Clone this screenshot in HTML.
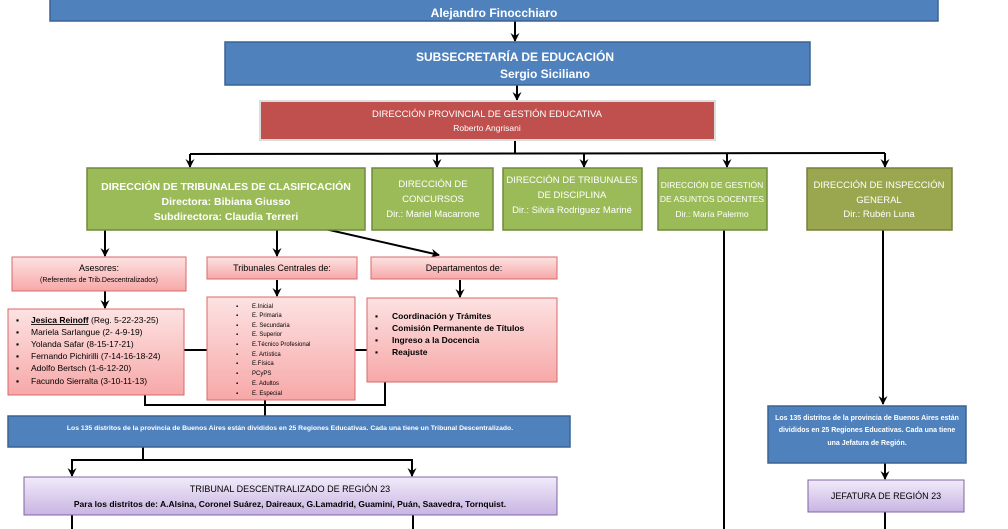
<!DOCTYPE html>
<html><head><meta charset="utf-8"><style>
html,body{margin:0;padding:0;background:#fff;width:1008px;height:529px;overflow:hidden}
svg{display:block;font-family:"Liberation Sans",sans-serif}
</style></head><body>
<svg width="1008" height="529" viewBox="0 0 1008 529" xmlns="http://www.w3.org/2000/svg">
<defs>
<marker id="a" markerWidth="10" markerHeight="10" refX="8" refY="5" orient="auto" markerUnits="userSpaceOnUse"><path d="M0,0.5 L9,5 L0,9.5 L3,5 Z" fill="#000"/></marker>
<linearGradient id="pk" x1="0" y1="0" x2="0" y2="1"><stop offset="0" stop-color="#fde2e2"/><stop offset="1" stop-color="#f7a8a8"/></linearGradient>
<linearGradient id="pu" x1="0" y1="0" x2="0" y2="1"><stop offset="0" stop-color="#f1ebfa"/><stop offset="1" stop-color="#c8b4e2"/></linearGradient>
</defs>
<g stroke="#000" stroke-width="2" fill="none">
<line x1="515" y1="21" x2="515" y2="41" marker-end="url(#a)"/>
<line x1="517" y1="85" x2="517" y2="100" marker-end="url(#a)"/>
<polyline points="515,140 515,154"/>
<line x1="190" y1="154" x2="885" y2="153"/>
<line x1="190" y1="154" x2="190" y2="167" marker-end="url(#a)"/>
<line x1="437" y1="154" x2="437" y2="167" marker-end="url(#a)"/>
<line x1="584" y1="154" x2="584" y2="167" marker-end="url(#a)"/>
<line x1="727" y1="154" x2="727" y2="167" marker-end="url(#a)"/>
<line x1="885" y1="153" x2="885" y2="167" marker-end="url(#a)"/>
<line x1="105" y1="230" x2="105" y2="256" marker-end="url(#a)"/>
<line x1="277" y1="230" x2="277" y2="256" marker-end="url(#a)"/>
<line x1="325" y1="229" x2="439" y2="255" marker-end="url(#a)"/>
<line x1="105" y1="291" x2="105" y2="308" marker-end="url(#a)"/>
<line x1="277" y1="280" x2="277" y2="296" marker-end="url(#a)"/>
<line x1="460" y1="280" x2="460" y2="297" marker-end="url(#a)"/>
<line x1="184" y1="350" x2="207" y2="350"/><line x1="355" y1="350" x2="367" y2="350"/>
<polyline points="145,395 145,405 385,405 385,382"/>
<line x1="265" y1="400" x2="265" y2="416"/>
<line x1="143" y1="447" x2="143" y2="460"/>
<polyline points="72,476 72,460 412,460 412,476"/>
<line x1="72" y1="462" x2="72" y2="476" marker-end="url(#a)"/><line x1="412" y1="462" x2="412" y2="476" marker-end="url(#a)"/>
<line x1="72" y1="515" x2="72" y2="529"/><line x1="413" y1="515" x2="413" y2="529"/>
<line x1="724" y1="230" x2="724" y2="529"/>
<line x1="883" y1="230" x2="883" y2="404" marker-end="url(#a)"/>
<line x1="885" y1="463" x2="885" y2="479" marker-end="url(#a)"/>
<line x1="885" y1="512" x2="885" y2="529"/>
</g>
<g stroke="#3a6394" stroke-width="1.5" fill="#4f81bd">
<rect x="50" y="-2" width="888" height="23"/>
<rect x="225" y="42" width="585" height="43"/>
<rect x="8" y="416" width="562" height="31"/>
<rect x="768" y="406" width="198" height="57"/>
</g>
<rect x="260" y="101" width="455" height="39" fill="#c0504d" stroke="#ddd" stroke-width="2"/>
<g stroke="#6f8a3a" stroke-width="1.5" fill="#9bbb59">
<rect x="87" y="168" width="278" height="62"/>
<rect x="372" y="168" width="121" height="62"/>
<rect x="503" y="168" width="139" height="62"/>
<rect x="658" y="168" width="109" height="62"/>
</g>
<rect x="807" y="168" width="145" height="62" fill="#9aa74f" stroke="#7a7f3a" stroke-width="1.5"/>
<g stroke="#d9686a" stroke-width="1" fill="url(#pk)">
<rect x="12" y="257" width="174" height="34"/>
<rect x="207" y="257" width="150" height="22"/>
<rect x="371" y="257" width="186" height="22"/>
<rect x="8" y="309" width="176" height="86"/>
<rect x="207" y="297" width="148" height="103"/>
<rect x="367" y="298" width="190" height="84"/>
</g>
<g stroke="#8064a2" stroke-width="1" fill="url(#pu)">
<rect x="24" y="477" width="533" height="38"/>
<rect x="808" y="480" width="156" height="32"/>
</g>
<g fill="#fff" font-weight="bold" text-anchor="middle">
<text x="494" y="17" font-size="12">Alejandro Finocchiaro</text>
<text x="515" y="61" font-size="12">SUBSECRETARÍA DE EDUCACIÓN</text>
<text x="545" y="78" font-size="12">Sergio Siciliano</text>
<text x="226" y="190" font-size="10.5">DIRECCIÓN DE TRIBUNALES DE CLASIFICACIÓN</text>
<text x="226" y="205" font-size="10.5">Directora: Bibiana Giusso</text>
<text x="226" y="220" font-size="10.5">Subdirectora: Claudia Terreri</text>
<text x="290" y="430" font-size="6.8">Los 135 distritos de la provincia de Buenos Aires están divididos en 25 Regiones Educativas. Cada una tiene un Tribunal Descentralizado.</text>
<text x="867" y="420" font-size="7">Los 135 distritos de la provincia de Buenos Aires están</text>
<text x="867" y="432" font-size="7">divididos en 25 Regiones Educativas. Cada una tiene</text>
<text x="867" y="445" font-size="7">una Jefatura de Región.</text>
</g>
<g fill="#fff" text-anchor="middle" font-size="9.5">
<text x="487" y="117">DIRECCIÓN PROVINCIAL DE GESTIÓN EDUCATIVA</text>
<text x="487" y="131" font-size="8.5">Roberto Angrisani</text>
<text x="433" y="187">DIRECCIÓN DE</text><text x="433" y="202">CONCURSOS</text><text x="433" y="217">Dir.: Mariel Macarrone</text>
<text x="572" y="183">DIRECCIÓN DE TRIBUNALES</text><text x="572" y="198">DE DISCIPLINA</text><text x="572" y="213">Dir.: Silvia Rodriguez Mariné</text>
<text x="712" y="188" font-size="8.5">DIRECCIÓN DE GESTIÓN</text><text x="712" y="202" font-size="8.5">DE ASUNTOS DOCENTES</text><text x="712" y="217" font-size="8.5">Dir.: María Palermo</text>
<text x="879" y="188">DIRECCIÓN DE INSPECCIÓN</text><text x="879" y="203">GENERAL</text><text x="879" y="217">Dir.: Rubén Luna</text>
</g>
<g fill="#000" font-size="9" text-anchor="middle">
<text x="99" y="271">Asesores:</text>
<text x="99" y="282" font-size="7">(Referentes de Trib.Descentralizados)</text>
<text x="282" y="271">Tribunales Centrales de:</text>
<text x="464" y="271">Departamentos de:</text>
<text x="290" y="492">TRIBUNAL DESCENTRALIZADO DE REGIÓN 23</text>
<text x="290" y="507" font-weight="bold" font-size="8.5">Para los distritos de:  A.Alsina, Coronel Suárez, Daireaux, G.Lamadrid, Guaminí, Puán, Saavedra, Tornquist.</text>
<text x="886" y="499">JEFATURA DE REGIÓN 23</text>
</g>
<g fill="#000" font-size="8.5">
<text x="16" y="323">▪</text><text x="31" y="323"><tspan text-decoration="underline" font-weight="bold">Jesica Reinoff</tspan> (Reg. 5-22-23-25)</text>
<text x="16" y="335">▪</text><text x="31" y="335">Mariela Sarlangue (2- 4-9-19)</text>
<text x="16" y="347">▪</text><text x="31" y="347">Yolanda Safar (8-15-17-21)</text>
<text x="16" y="359">▪</text><text x="31" y="359">Fernando Pichirilli (7-14-16-18-24)</text>
<text x="16" y="371">▪</text><text x="31" y="371">Adolfo Bertsch (1-6-12-20)</text>
<text x="16" y="384">▪</text><text x="31" y="384">Facundo Sierralta (3-10-11-13)</text>
</g>
<g fill="#000" font-size="6">
<text x="236" y="308">▪</text><text x="252" y="308">E.Inicial</text>
<text x="236" y="317">▪</text><text x="252" y="317">E. Primaria</text>
<text x="236" y="327">▪</text><text x="252" y="327">E. Secundaria</text>
<text x="236" y="336">▪</text><text x="252" y="336">E. Superior</text>
<text x="236" y="346">▪</text><text x="252" y="346">E.Técnico Profesional</text>
<text x="236" y="356">▪</text><text x="252" y="356">E. Artística</text>
<text x="236" y="365">▪</text><text x="252" y="365">E.Física</text>
<text x="236" y="375">▪</text><text x="252" y="375">PCyPS</text>
<text x="236" y="385">▪</text><text x="252" y="385">E. Adultos</text>
<text x="236" y="395">▪</text><text x="252" y="395">E. Especial</text>
</g>
<g fill="#000" font-size="8.5" font-weight="bold">
<text x="375" y="319">▪</text><text x="392" y="319">Coordinación y Trámites</text>
<text x="375" y="331">▪</text><text x="392" y="331">Comisión Permanente de Títulos</text>
<text x="375" y="343">▪</text><text x="392" y="343">Ingreso a la Docencia</text>
<text x="375" y="355">▪</text><text x="392" y="355">Reajuste</text>
</g>
</svg>
</body></html>
